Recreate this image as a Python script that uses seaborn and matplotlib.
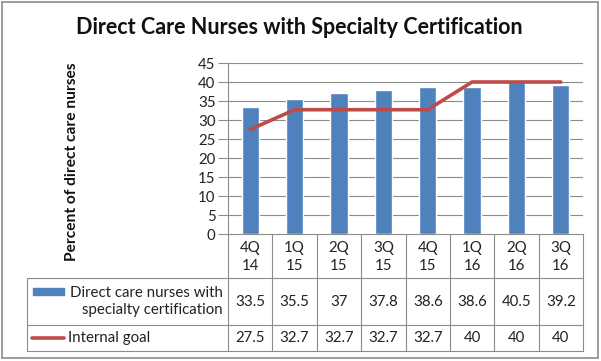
import numpy as np
import seaborn as sns
import matplotlib.pyplot as plt
from matplotlib.patches import Rectangle

# data
quarters = ['4Q\n14', '1Q\n15', '2Q\n15', '3Q\n15', '4Q\n15', '1Q\n16', '2Q\n16', '3Q\n16']
certified = [33.5, 35.5, 37, 37.8, 38.6, 38.6, 40.5, 39.2]
goal = [27.5, 32.7, 32.7, 32.7, 32.7, 40, 40, 40]
series_names = ['Direct care nurses with\nspecialty certification', 'Internal goal']

sns.set_style('white')
plt.rcParams['font.family'] = ['Lato', 'DejaVu Sans']

BLUE = '#4F81BD'
RED = '#BE4B48'
GRID = '#8C8C8C'
W, H = 601, 361
FS = 10.8

fig = plt.figure(figsize=(W / 100, H / 100), dpi=100)

# plot area in pixels
x0, x1, y_top, y_zero = 228, 583, 63, 234
ax = fig.add_axes([x0 / W, 1 - y_zero / H, (x1 - x0) / W, (y_zero - y_top) / H])

sns.barplot(x=quarters, y=certified, color=BLUE, saturation=1, width=0.39, ax=ax, zorder=3)
sns.lineplot(x=np.arange(len(goal)), y=goal, color=RED, linewidth=2.6, ax=ax, zorder=4)

ax.set_xlim(-0.5, len(quarters) - 0.5)
ax.set_ylim(0, 45)
ax.set_yticks(range(0, 46, 5))
ax.yaxis.grid(True, color=GRID, linewidth=0.8)
ax.set_axisbelow(True)
ax.set_xticks([])
ax.set_xlabel('')
ax.tick_params(axis='y', direction='out', length=7, width=0.8, color=GRID,
               labelsize=FS, labelcolor='#222222', left=True, pad=2)
for s in ['top', 'right', 'bottom']:
    ax.spines[s].set_visible(False)
ax.spines['left'].set_color(GRID)
ax.spines['left'].set_linewidth(0.8)

# overlay in pixel coords for the data table, title, frame
ov = fig.add_axes([0, 0, 1, 1], zorder=-1)
ov.set_xlim(0, W)
ov.set_ylim(H, 0)
ov.axis('off')

lw = 0.8
tl, r1, r2, r3 = 27, 278, 325, 351
colw = (x1 - x0) / len(quarters)
# horizontal lines
ov.plot([x0, x1], [y_zero, y_zero], color=GRID, lw=lw)
for yy in [r1, r2, r3]:
    ov.plot([tl, x1], [yy, yy], color=GRID, lw=lw)
# vertical lines
for i in range(len(quarters) + 1):
    ov.plot([x0 + i * colw] * 2, [y_zero, r3], color=GRID, lw=lw)
ov.plot([tl, tl], [r1, r3], color=GRID, lw=lw)

txt = dict(fontsize=FS, color='#222222', ha='center', va='center')
for i, q in enumerate(quarters):
    cx = x0 + (i + 0.5) * colw
    ov.text(cx, (y_zero + r1) / 2 + 1, q, linespacing=1.3, **txt)
    ov.text(cx, (r1 + r2) / 2, f'{certified[i]:g}', **txt)
    ov.text(cx, (r2 + r3) / 2, f'{goal[i]:g}', **txt)

# legend keys in the table
ov.add_patch(Rectangle((33, 288), 31, 7, color=BLUE))
ov.text(223, (r1 + r2) / 2, series_names[0], fontsize=FS, color='#222222',
        ha='right', va='center', linespacing=1.3)
ov.plot([32, 64], [338, 338], color=RED, lw=2.6)
ov.text(68, (r2 + r3) / 2, series_names[1], fontsize=FS, color='#222222',
        ha='left', va='center')

# title and y label
ov.text(299, 27, 'Direct Care Nurses with Specialty Certification', fontsize=15.5,
        fontweight='bold', ha='center', va='center', color='#111111')
ov.text(72, 162, 'Percent of direct care nurses', fontsize=11.2, fontweight='bold',
        rotation=90, ha='center', va='center', color='#111111')

# outer frame
ov.add_patch(Rectangle((2, 2), W - 5, H - 5, fill=False, edgecolor='#8C8C8C', lw=1.2))

fig.savefig('out.png', dpi=100)
